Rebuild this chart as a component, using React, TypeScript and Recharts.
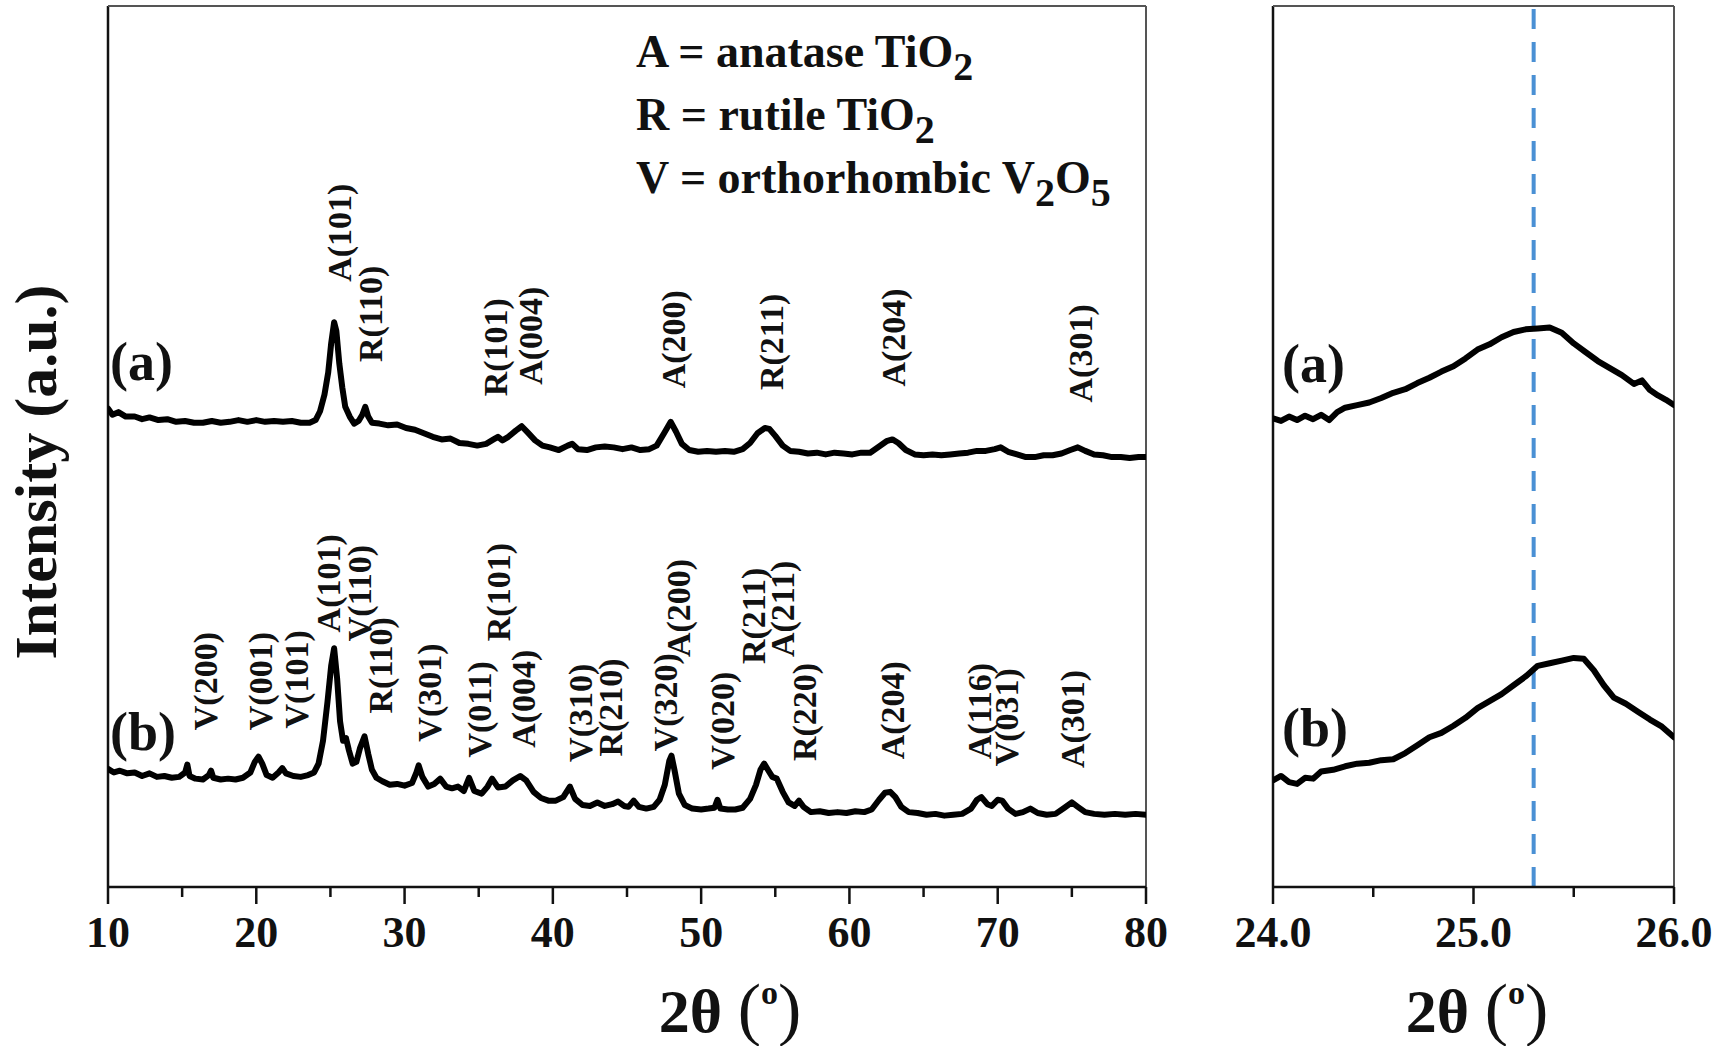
import React from 'react';
import { LineChart, Line, XAxis, YAxis, ReferenceLine, ReferenceDot } from 'recharts';

const SERIF = "'Liberation Serif', 'Times New Roman', serif";
const INK = '#111';
const FRAME = '#555';
const GUIDE = '#4a90d4';

// Wide scan, 2θ = 10–80°: [2θ (°), intensity (a.u.)]
const wideScanA: [number, number][] = [
  [10.0, 54.3], [10.3, 53.6], [10.7, 53.9], [11.2, 53.4], [11.8, 53.4], [12.3, 53.1], [12.8, 53.3], [13.4, 53.0],
  [14.0, 53.1], [14.6, 52.8], [15.2, 52.9], [15.8, 52.7], [16.4, 52.7], [17.0, 52.9], [17.6, 52.7], [18.2, 52.8],
  [18.8, 53.0], [19.4, 52.8], [20.0, 53.0], [20.6, 52.8], [21.2, 52.9], [21.8, 52.8], [22.4, 52.9], [23.0, 52.7],
  [23.6, 52.7], [24.0, 53.0], [24.3, 54.0], [24.6, 55.9], [24.85, 58.4], [25.05, 61.7], [25.25, 64.1], [25.4, 63.1],
  [25.6, 59.4], [25.8, 56.7], [26.0, 54.5], [26.3, 53.4], [26.6, 52.6], [26.9, 52.9], [27.15, 53.6], [27.35, 54.5],
  [27.55, 53.4], [27.8, 52.7], [28.3, 52.6], [28.9, 52.4], [29.5, 52.5], [30.1, 52.1], [30.7, 51.9], [31.3, 51.5],
  [31.9, 51.1], [32.5, 50.8], [33.1, 50.9], [33.7, 50.4], [34.3, 50.3], [34.9, 50.1], [35.5, 50.3], [36.0, 50.8],
  [36.3, 51.1], [36.6, 50.7], [37.0, 51.1], [37.5, 51.8], [37.9, 52.3], [38.3, 51.6], [38.8, 50.7], [39.3, 50.1],
  [39.8, 49.9], [40.4, 49.6], [41.0, 50.1], [41.3, 50.3], [41.7, 49.7], [42.3, 49.6], [42.9, 49.9], [43.5, 50.0],
  [44.1, 49.9], [44.7, 49.7], [45.3, 49.9], [45.9, 49.6], [46.5, 49.7], [47.0, 50.1], [47.5, 51.5], [47.95, 52.8],
  [48.3, 51.7], [48.7, 50.3], [49.2, 49.6], [49.8, 49.4], [50.4, 49.5], [51.0, 49.4], [51.6, 49.5], [52.2, 49.4],
  [52.8, 49.7], [53.3, 50.4], [53.8, 51.5], [54.3, 52.1], [54.6, 52.0], [55.0, 51.2], [55.5, 50.1], [56.0, 49.5],
  [56.6, 49.4], [57.2, 49.2], [57.8, 49.3], [58.4, 49.1], [59.0, 49.3], [59.6, 49.2], [60.2, 49.1], [60.8, 49.3],
  [61.4, 49.3], [62.0, 50.0], [62.5, 50.6], [62.9, 50.8], [63.3, 50.4], [63.8, 49.6], [64.4, 49.1], [65.0, 49.0],
  [65.6, 49.1], [66.2, 49.0], [66.8, 49.1], [67.4, 49.2], [68.0, 49.3], [68.6, 49.5], [69.2, 49.5], [69.8, 49.7],
  [70.2, 49.9], [70.7, 49.4], [71.3, 49.1], [71.9, 48.8], [72.5, 48.8], [73.1, 49.0], [73.7, 49.0], [74.3, 49.2],
  [74.9, 49.6], [75.4, 49.9], [75.9, 49.5], [76.5, 49.1], [77.1, 49.0], [77.7, 48.8], [78.3, 48.8], [78.9, 48.7],
  [79.5, 48.8], [80.0, 48.8],
];

const wideScanB: [number, number][] = [
  [10.0, 13.4], [10.4, 13.0], [10.8, 13.2], [11.3, 12.9], [11.8, 13.0], [12.3, 12.6], [12.8, 12.9], [13.3, 12.5],
  [13.8, 12.6], [14.3, 12.4], [14.8, 12.5], [15.2, 13.0], [15.35, 13.9], [15.5, 12.6], [15.9, 12.3], [16.4, 12.2],
  [16.8, 12.7], [16.95, 13.2], [17.1, 12.4], [17.6, 12.2], [18.1, 12.3], [18.6, 12.2], [19.1, 12.4], [19.6, 13.0],
  [19.9, 14.2], [20.15, 14.8], [20.4, 14.0], [20.7, 12.7], [21.1, 12.4], [21.5, 13.0], [21.75, 13.5], [22.0, 12.9],
  [22.5, 12.6], [23.0, 12.5], [23.5, 12.7], [23.9, 13.0], [24.2, 14.0], [24.5, 16.6], [24.8, 21.0], [25.05, 25.1],
  [25.25, 27.1], [25.45, 23.7], [25.65, 18.8], [25.85, 16.6], [26.05, 16.9], [26.25, 15.5], [26.5, 14.0], [26.75, 14.2],
  [27.0, 15.8], [27.3, 17.1], [27.55, 15.1], [27.8, 13.3], [28.1, 12.4], [28.5, 12.0], [29.0, 11.6], [29.5, 11.7],
  [30.0, 11.5], [30.5, 11.8], [30.8, 13.0], [30.95, 13.8], [31.2, 12.5], [31.6, 11.4], [32.0, 11.7], [32.4, 12.3],
  [32.8, 11.4], [33.2, 11.2], [33.6, 11.4], [34.0, 10.9], [34.35, 12.4], [34.7, 10.9], [35.2, 10.6], [35.6, 11.4],
  [35.9, 12.3], [36.3, 11.3], [36.8, 11.4], [37.3, 12.1], [37.8, 12.6], [38.2, 12.1], [38.7, 10.8], [39.2, 10.1],
  [39.7, 9.8], [40.2, 9.8], [40.7, 10.2], [41.15, 11.4], [41.5, 10.0], [42.0, 9.3], [42.5, 9.2], [43.0, 9.6],
  [43.5, 9.2], [44.0, 9.4], [44.4, 9.7], [44.8, 9.2], [45.1, 9.1], [45.45, 9.8], [45.8, 9.1], [46.3, 8.9],
  [46.8, 9.1], [47.2, 9.9], [47.55, 11.6], [47.85, 14.3], [48.0, 14.9], [48.2, 13.3], [48.5, 10.6], [48.9, 9.3],
  [49.4, 8.9], [50.0, 8.8], [50.5, 8.9], [50.9, 9.0], [51.1, 9.9], [51.3, 8.9], [51.8, 8.8], [52.3, 8.8],
  [52.8, 9.0], [53.3, 10.0], [53.7, 11.6], [54.0, 13.3], [54.25, 14.0], [54.5, 13.3], [54.8, 12.5], [55.1, 12.3],
  [55.5, 10.8], [55.9, 9.6], [56.3, 9.2], [56.6, 9.8], [56.9, 9.1], [57.4, 8.5], [58.0, 8.6], [58.6, 8.4],
  [59.2, 8.5], [59.8, 8.4], [60.4, 8.6], [61.0, 8.5], [61.5, 8.8], [62.0, 9.9], [62.4, 10.7], [62.75, 10.8],
  [63.1, 10.2], [63.5, 9.1], [64.0, 8.5], [64.6, 8.4], [65.2, 8.2], [65.8, 8.3], [66.4, 8.1], [67.0, 8.2],
  [67.6, 8.3], [68.2, 8.9], [68.6, 9.9], [68.9, 10.2], [69.3, 9.4], [69.6, 9.2], [70.0, 9.9], [70.3, 9.8],
  [70.7, 8.9], [71.2, 8.3], [71.7, 8.5], [72.2, 8.9], [72.7, 8.4], [73.3, 8.2], [73.9, 8.3], [74.5, 9.0],
  [75.0, 9.6], [75.4, 9.1], [75.9, 8.5], [76.5, 8.3], [77.2, 8.2], [77.9, 8.3], [78.6, 8.2], [79.3, 8.3],
  [80.0, 8.2],
];

// Close-up of the anatase (101) reflection, 2θ = 24–26°
const zoomScanA: [number, number][] = [
  [24.0, 53.2], [24.04, 52.9], [24.08, 53.4], [24.12, 53.0], [24.16, 53.5], [24.2, 53.1], [24.24, 53.6], [24.28, 53.0],
  [24.32, 53.9], [24.36, 54.4], [24.42, 54.7], [24.48, 55.0], [24.54, 55.5], [24.6, 56.1], [24.66, 56.5], [24.72, 57.2],
  [24.78, 57.8], [24.84, 58.5], [24.9, 59.1], [24.96, 60.0], [25.02, 61.0], [25.08, 61.6], [25.14, 62.4], [25.2, 63.0],
  [25.26, 63.3], [25.32, 63.4], [25.38, 63.5], [25.44, 62.9], [25.5, 61.7], [25.56, 60.7], [25.62, 59.7], [25.68, 58.9],
  [25.74, 58.1], [25.8, 57.1], [25.84, 57.5], [25.88, 56.4], [25.92, 55.8], [25.96, 55.3], [26.0, 54.7],
];

const zoomScanB: [number, number][] = [
  [24.0, 12.1], [24.04, 12.6], [24.08, 11.9], [24.12, 11.7], [24.16, 12.4], [24.2, 12.3], [24.24, 13.1], [24.3, 13.3],
  [24.36, 13.7], [24.42, 14.0], [24.48, 14.1], [24.54, 14.4], [24.6, 14.5], [24.66, 15.2], [24.72, 16.1], [24.78, 17.0],
  [24.84, 17.5], [24.9, 18.3], [24.96, 19.2], [25.02, 20.3], [25.08, 21.1], [25.14, 21.9], [25.2, 22.9], [25.26, 23.9],
  [25.32, 25.1], [25.38, 25.4], [25.44, 25.7], [25.5, 26.0], [25.55, 25.9], [25.6, 24.6], [25.65, 22.9], [25.7, 21.5],
  [25.76, 20.8], [25.82, 19.9], [25.88, 19.0], [25.94, 18.2], [26.0, 17.0],
];

// Reflection labels: [hkl text, 2θ (°), intensity at the foot of the label]
const peakLabelsA: [string, number, number][] = [
  ['A(101)', 25.58, 68.7], ['R(110)', 27.67, 59.6], ['R(101)', 36.1, 55.7], ['A(004)', 38.46, 57.0],
  ['A(200)', 48.1, 56.6], ['R(211)', 54.71, 56.4], ['A(204)', 62.94, 56.8], ['A(301)', 75.55, 55.0],
];

const peakLabelsB: [string, number, number][] = [
  ['V(200)', 16.54, 17.8], ['V(001)', 20.25, 17.8], ['V(101)', 22.68, 18.0], ['A(101)', 24.9, 28.9],
  ['V(110)', 26.93, 27.9], ['R(110)', 28.34, 19.7], ['V(301)', 31.71, 16.5], ['V(011)', 35.02, 14.7],
  ['R(101)', 36.3, 27.9], ['A(004)', 38.05, 15.8], ['V(310)', 41.83, 14.2], ['R(210)', 43.85, 14.8],
  ['V(320)', 47.56, 15.4], ['A(200)', 48.44, 26.1], ['V(020)', 51.47, 13.3], ['R(211)', 53.5, 25.3],
  ['A(211)', 55.45, 26.1], ['R(220)', 56.94, 14.3], ['A(204)', 62.87, 14.5], ['A(116)', 68.8, 14.5],
  ['V(031)', 70.62, 13.7], ['A(301)', 75.07, 13.5],
];

const wideTicks = [10, 15, 20, 25, 30, 35, 40, 45, 50, 55, 60, 65, 70, 75, 80];
const zoomTicks = [24, 24.5, 25, 25.5, 26];
const anataseReference = 25.3;

const toRows = (pts: [number, number][]) => pts.map(([theta, intensity]) => ({ theta, intensity }));

const makeTick = (isMajor: (v: number) => boolean, fmt: (v: number) => string) => (props: any) => {
  const { x, y, payload } = props;
  const v = payload.value as number;
  const major = isMajor(v);
  return (
    <g>
      <line x1={x} x2={x} y1={y} y2={y + (major ? 17 : 10)} stroke={INK} strokeWidth={2.5} />
      {major && (
        <text x={x} y={y + 60} textAnchor="middle" fontFamily={SERIF} fontWeight="bold" fontSize={44} fill={INK}>
          {fmt(v)}
        </text>
      )}
    </g>
  );
};

const wideTick = makeTick((v) => v % 10 === 0, (v) => String(v));
const zoomTick = makeTick((v) => Number.isInteger(v), (v) => v.toFixed(1));

const PeakText = ({ cx, cy, text }: { cx: number; cy: number; text: string }) => (
  <text
    x={cx}
    y={cy}
    dy="0.34em"
    transform={`rotate(-90 ${cx} ${cy})`}
    fontFamily={SERIF}
    fontWeight="bold"
    fontSize={34}
    fill={INK}
  >
    {text}
  </text>
);

const peakDots = (labels: [string, number, number][], prefix: string) =>
  labels.map(([text, theta, level]) => (
    <ReferenceDot
      key={`${prefix}-${text}-${theta}`}
      x={theta}
      y={level}
      r={0}
      ifOverflow="visible"
      shape={(p: any) => <PeakText cx={p.cx} cy={p.cy} text={text} />}
    />
  ));

const traceStyle = {
  stroke: '#000',
  strokeWidth: 6,
  strokeLinejoin: 'round' as const,
  strokeLinecap: 'round' as const,
};

const AxisTitle = ({ x, y }: { x: number; y: number }) => (
  <text x={x} y={y} textAnchor="middle" fontFamily={SERIF} fontSize={62} fill={INK}>
    <tspan fontWeight="bold">2θ </tspan>
    <tspan fontWeight="normal" fontSize={70}>(</tspan>
    <tspan fontWeight="bold" fontSize={34} dy={-28}>o</tspan>
    <tspan fontWeight="normal" fontSize={70} dy={28}>)</tspan>
  </text>
);

const Tag = ({ x, y, text }: { x: number; y: number; text: string }) => (
  <text x={x} y={y} fontFamily={SERIF} fontWeight="bold" fontSize={54} fill={INK}>
    {text}
  </text>
);

export default function App() {
  const rowsA = toRows(wideScanA);
  const rowsB = toRows(wideScanB);
  const zoomRowsA = toRows(zoomScanA);
  const zoomRowsB = toRows(zoomScanB);

  return (
    <div style={{ position: 'fixed', left: 0, top: 0, width: 1716, height: 1046, background: '#fff' }}>
      <div style={{ position: 'absolute', left: 0, top: 0 }}>
        <LineChart width={1200} height={1046} margin={{ top: 6, right: 54, bottom: 59, left: 108 }}>
          <XAxis
            type="number"
            dataKey="theta"
            domain={[10, 80]}
            ticks={wideTicks}
            interval={0}
            height={100}
            tickLine={false}
            tickSize={0}
            tickMargin={0}
            axisLine={{ stroke: INK, strokeWidth: 2.5 }}
            tick={wideTick}
            allowDataOverflow
          />
          <YAxis type="number" domain={[0, 100]} hide allowDataOverflow />
          <ReferenceLine x={10} stroke={INK} strokeWidth={2.5} />
          <ReferenceLine x={80} stroke={FRAME} strokeWidth={2} />
          <ReferenceLine y={100} stroke={FRAME} strokeWidth={2} />
          <Line data={rowsA} dataKey="intensity" type="linear" dot={false} isAnimationActive={false} {...traceStyle} />
          <Line data={rowsB} dataKey="intensity" type="linear" dot={false} isAnimationActive={false} {...traceStyle} />
          {peakDots(peakLabelsA, 'a')}
          {peakDots(peakLabelsB, 'b')}
        </LineChart>
      </div>

      <div style={{ position: 'absolute', left: 1200, top: 0 }}>
        <LineChart width={516} height={1046} margin={{ top: 6, right: 42, bottom: 59, left: 73 }}>
          <XAxis
            type="number"
            dataKey="theta"
            domain={[24, 26]}
            ticks={zoomTicks}
            interval={0}
            height={100}
            tickLine={false}
            tickSize={0}
            tickMargin={0}
            axisLine={{ stroke: INK, strokeWidth: 2.5 }}
            tick={zoomTick}
            allowDataOverflow
          />
          <YAxis type="number" domain={[0, 100]} hide allowDataOverflow />
          <ReferenceLine x={24} stroke={INK} strokeWidth={2.5} />
          <ReferenceLine x={26} stroke={FRAME} strokeWidth={2} />
          <ReferenceLine y={100} stroke={FRAME} strokeWidth={2} />
          <ReferenceLine x={anataseReference} stroke={GUIDE} strokeWidth={4} strokeDasharray="20 13" />
          <Line data={zoomRowsA} dataKey="intensity" type="linear" dot={false} isAnimationActive={false} {...traceStyle} />
          <Line data={zoomRowsB} dataKey="intensity" type="linear" dot={false} isAnimationActive={false} {...traceStyle} />
        </LineChart>
      </div>

      <svg
        width={1716}
        height={1046}
        style={{ position: 'absolute', left: 0, top: 0, pointerEvents: 'none' }}
      >
        <text
          x={36}
          y={472}
          dy="0.34em"
          textAnchor="middle"
          transform="rotate(-90 36 472)"
          fontFamily={SERIF}
          fontWeight="bold"
          fontSize={60}
          fill={INK}
        >
          Intensity (a.u.)
        </text>

        <AxisTitle x={730} y={1032} />
        <AxisTitle x={1477} y={1032} />

        <g fontFamily={SERIF} fontWeight="bold" fontSize={46} fill={INK}>
          <text x={636} y={67}>
            A = anatase TiO<tspan fontSize={40} dy={13}>2</tspan>
          </text>
          <text x={636} y={130}>
            R = rutile TiO<tspan fontSize={40} dy={13}>2</tspan>
          </text>
          <text x={636} y={193}>
            V = orthorhombic V<tspan fontSize={40} dy={13}>2</tspan>
            <tspan dy={-13}>O</tspan>
            <tspan fontSize={40} dy={13}>5</tspan>
          </text>
        </g>

        <Tag x={110} y={380} text="(a)" />
        <Tag x={110} y={750} text="(b)" />
        <Tag x={1282} y={382} text="(a)" />
        <Tag x={1282} y={746} text="(b)" />
      </svg>
    </div>
  );
}
